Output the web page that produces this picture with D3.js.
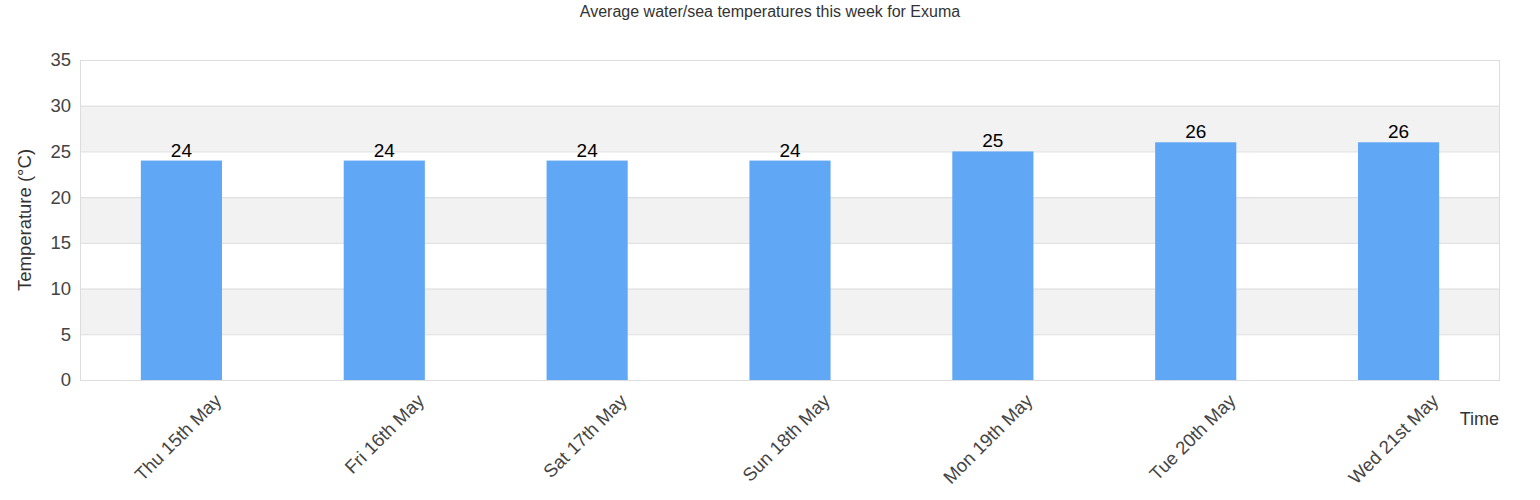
<!DOCTYPE html>
<html><head><meta charset="utf-8">
<script src="https://cdn.jsdelivr.net/npm/d3@7"></script>
<style>body{margin:0;background:#fff;font-family:Arial,"Liberation Sans",sans-serif;}</style>
</head><body><svg id="c" width="1540" height="500"></svg>
<script>
const categories = ["Thu 15th May","Fri 16th May","Sat 17th May","Sun 18th May","Mon 19th May","Tue 20th May","Wed 21st May"];
const values = [24,24,24,24,25,26,26];
const yTicks = [0,5,10,15,20,25,30,35];
const title = "Average water/sea temperatures this week for Exuma";
const yLabel = "Temperature (°C)";
const xLabel = "Time";

const svg = d3.select("#c");
const m = {l:80, r:40, t:60, b:120};
const W = 1540, H = 500;
const x = d3.scaleBand().domain(categories).range([m.l, W - m.r]).paddingInner(0.6).paddingOuter(0.3);
const y = d3.scaleLinear().domain([0,35]).range([H - m.b, m.t]);

// bands
const bands = [[5,10],[15,20],[25,30]];
svg.selectAll("rect.band").data(bands).join("rect")
  .attr("x", m.l).attr("width", W - m.r - m.l)
  .attr("y", d => y(d[1])).attr("height", d => y(d[0]) - y(d[1]))
  .attr("fill", "#f2f2f2");
// grid
svg.selectAll("line.grid").data(yTicks).join("line")
  .attr("x1", m.l).attr("x2", W - m.r)
  .attr("y1", d => y(d) + 0.5).attr("y2", d => y(d) + 0.5)
  .attr("stroke", "#dddddd");
// frame
svg.append("rect").attr("x", m.l + 0.5).attr("y", y(35) + 0.5)
  .attr("width", W - m.r - m.l - 1).attr("height", y(0) - y(35))
  .attr("fill", "none").attr("stroke", "#dddddd");

// y axis
const ya = svg.append("g").attr("transform", `translate(${m.l},0)`)
  .call(d3.axisLeft(y).tickValues(yTicks).tickSize(0).tickPadding(9));
ya.select(".domain").remove();
ya.selectAll("text").attr("font-size", 18.5).attr("fill", "#444").attr("font-family", "Arial,'Liberation Sans',sans-serif");

// bars
svg.selectAll("rect.bar").data(values).join("rect")
  .attr("x", (d,i) => x(categories[i])).attr("width", x.bandwidth())
  .attr("y", d => y(d)).attr("height", d => y(0) - y(d))
  .attr("fill", "#60a8f5");
svg.selectAll("text.val").data(values).join("text")
  .attr("x", (d,i) => x(categories[i]) + x.bandwidth()/2)
  .attr("y", d => y(d) - 4)
  .attr("text-anchor", "middle").attr("font-size", 19).attr("fill", "#000")
  .text(d => d);

// x axis
const xa = svg.append("g").attr("transform", `translate(0,${y(0)})`)
  .call(d3.axisBottom(x).tickSize(0));
xa.select(".domain").remove();
xa.selectAll("text")
  .attr("font-size", 18.5).attr("fill", "#444").attr("font-family", "Arial,'Liberation Sans',sans-serif")
  .attr("text-anchor", "end").attr("dy", null).attr("y", 0)
  .attr("transform", "translate(41,22) rotate(-45)");

// labels
svg.append("text").attr("x", 770).attr("y", 17).attr("text-anchor", "middle")
  .attr("font-size", 16).attr("fill", "#333").text(title);
svg.append("text").attr("transform", `translate(31,${(y(0)+y(35))/2}) rotate(-90)`)
  .attr("text-anchor", "middle").attr("font-size", 18.5).attr("fill", "#333").text(yLabel);
svg.append("text").attr("x", 1499).attr("y", 425).attr("text-anchor", "end")
  .attr("font-size", 18).attr("fill", "#333").text(xLabel);
</script></body></html>
